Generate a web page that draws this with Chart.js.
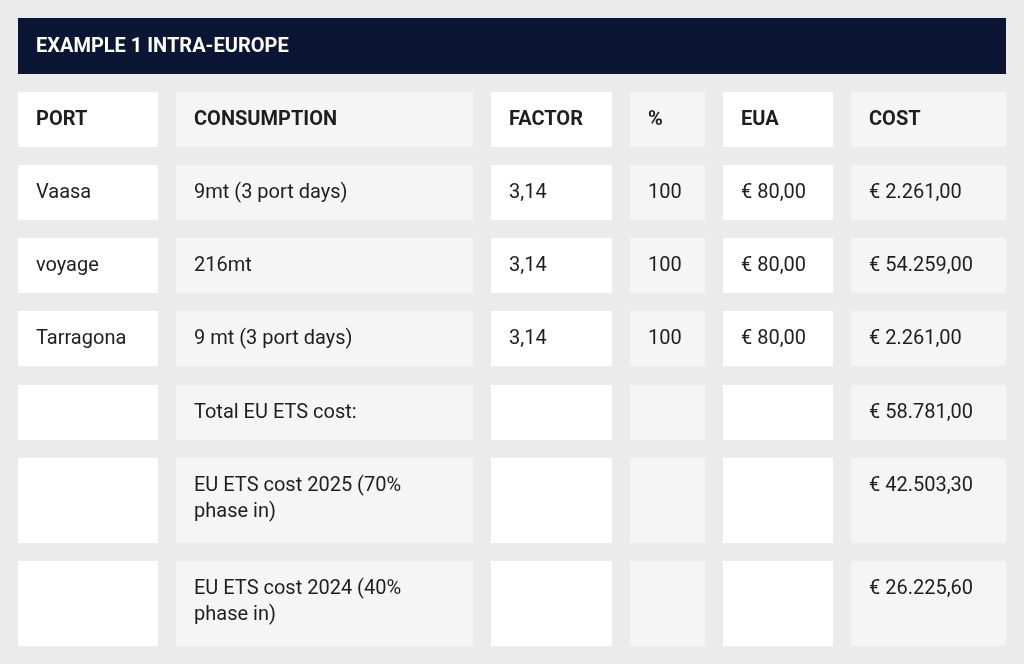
<!DOCTYPE html>
<html>
<head>
<meta charset="utf-8">
<script src="https://cdn.jsdelivr.net/npm/chart.js@4"></script>
<style>
  html, body { margin: 0; padding: 0; background: #ebebeb; }
  #wrap { width: 1024px; height: 664px; }
</style>
</head>
<body>
<div id="wrap"><canvas id="tabla"></canvas></div>
<script>
// Datos de la tabla
const titulo = "EXAMPLE 1 INTRA-EUROPE";
const cabeceras = ["PORT", "CONSUMPTION", "FACTOR", "%", "EUA", "COST"];
const puertos = ["Vaasa", "voyage", "Tarragona", "", "", ""];
const consumos = ["9mt (3 port days)", "216mt", "9 mt (3 port days)", "Total EU ETS cost:",
  "EU ETS cost 2025 (70%\nphase in)", "EU ETS cost 2024 (40%\nphase in)"];
const factores = ["3,14", "3,14", "3,14", "", "", ""];
const porcentajes = ["100", "100", "100", "", "", ""];
const euas = ["€ 80,00", "€ 80,00", "€ 80,00", "", "", ""];
const costes = ["€ 2.261,00", "€ 54.259,00", "€ 2.261,00", "€ 58.781,00", "€ 42.503,30", "€ 26.225,60"];

// Geometría (en unidades de las escalas 0..1024 x 0..664)
const COLS = [[18, 158], [176, 473], [491, 612], [630, 705], [723, 833], [851, 1006]];
const FILAS = [[92, 147], [165, 220], [238, 293], [311, 366], [385, 440], [458, 543], [561, 646]];
const FONDOS = ["#ffffff", "#f5f5f5", "#ffffff", "#f5f5f5", "#ffffff", "#f5f5f5"];

const pluginTabla = {
  id: "tabla",
  afterDraw(chart) {
    const { ctx, scales: { x, y } } = chart;
    const px = (v) => x.getPixelForValue(v);
    const py = (v) => y.getPixelForValue(v);
    ctx.save();
    // franja del título
    ctx.fillStyle = "#0a1633";
    ctx.fillRect(px(18), py(18), px(1006) - px(18), py(74) - py(18));
    ctx.fillStyle = "#ffffff";
    ctx.font = "bold 20px Roboto";
    ctx.textBaseline = "middle";
    ctx.fillText(titulo, px(36), py(47));

    const columnas = [puertos, consumos, factores, porcentajes, euas, costes];
    FILAS.forEach(([y0, y1], r) => {
      COLS.forEach(([x0, x1], c) => {
        ctx.fillStyle = FONDOS[c];
        ctx.fillRect(px(x0), py(y0), px(x1) - px(x0), py(y1) - py(y0));
        const txt = r === 0 ? cabeceras[c] : columnas[c][r - 1];
        if (!txt) return;
        ctx.fillStyle = "#1e1e1e";
        ctx.font = r === 0 ? "bold 20px Roboto" : "20px Roboto";
        txt.split("\n").forEach((linea, i) => {
          ctx.fillText(linea, px(x0 + 18), py(y0 + 28 + i * 26));
        });
      });
    });
    ctx.restore();
  },
};

new Chart(document.getElementById("tabla"), {
  type: "scatter",
  data: { datasets: [{ data: [] }] },
  options: {
    responsive: true,
    maintainAspectRatio: false,
    animation: false,
    layout: { padding: 0 },
    plugins: { legend: { display: false }, tooltip: { enabled: false } },
    scales: {
      x: { type: "linear", min: 0, max: 1024, display: false },
      y: { type: "linear", min: 0, max: 664, reverse: true, display: false },
    },
  },
  plugins: [pluginTabla],
});
</script>
</body>
</html>
